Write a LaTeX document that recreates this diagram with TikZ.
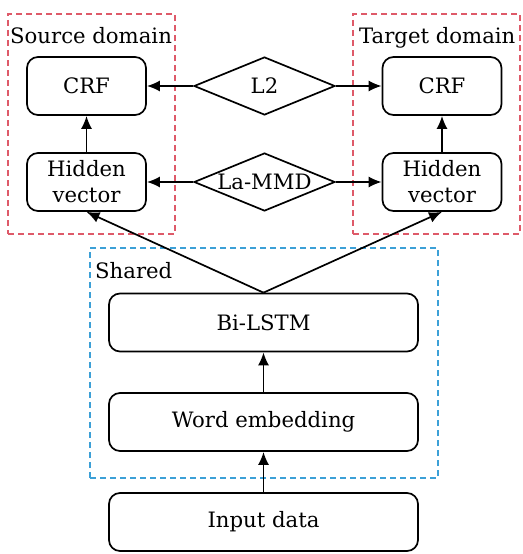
\documentclass[tikz,border=0pt]{standalone}
\usepackage{fontspec}
\setmainfont{DejaVu Serif}
\usetikzlibrary{shapes.geometric,arrows.meta}
\definecolor{redbox}{RGB}{222,90,105}
\definecolor{bluebox}{RGB}{60,160,215}
\begin{document}
\begin{tikzpicture}[x=1pt,y=-1pt,
  every node/.style={font=\fontsize{21.2}{26}\selectfont},
  block/.style={draw,line width=1.7pt,rounded corners=11pt,inner sep=0pt,align=center},
  small/.style={block,minimum width=119pt,minimum height=58pt},
  wide/.style={block,minimum width=309pt,minimum height=58pt},
  dia/.style={draw,line width=1.7pt,diamond,inner sep=0pt,minimum width=141pt,minimum height=58pt},
  arr/.style={line width=1.7pt,-{Latex[length=13pt,width=11pt]}},
  region/.style={dashed,dash pattern=on 6pt off 4pt,line width=1.3pt,inner sep=0pt},
  lab/.style={anchor=base west,inner sep=0pt}]
\useasboundingbox (0,0) rectangle (522,554);
% regions
\node[region,draw=redbox,minimum width=167pt,minimum height=220pt] (srcbox) at (91.5,124) {};
\node[region,draw=redbox,minimum width=167pt,minimum height=220pt] (tgtbox) at (436.5,124) {};
\node[region,draw=bluebox,minimum width=348pt,minimum height=230pt] (shbox) at (264,363) {};
\node[lab] (srclab) at (10,43) {Source domain};
\node[lab] (tgtlab) at (359,43) {Target domain};
\node[lab] (shlab) at (95,278) {Shared};
% blocks
\node[small] (srccrf) at (86.5,86) {CRF};
\node[small] (srchid) at (86.5,182) {Hidden\\vector};
\node[small] (tgtcrf) at (442,86) {CRF};
\node[small] (tgthid) at (442,182) {Hidden\\vector};
\node[dia,label={[inner sep=0pt]center:L2}] (l2) at (264.5,86) {};
\node[dia,label={[inner sep=0pt]center:La-MMD}] (mmd) at (264.5,182) {};
\node[wide] (bilstm) at (263.5,322.5) {Bi-LSTM};
\node[wide] (wemb) at (263.5,422) {Word embedding};
\node[wide] (input) at (263.5,522) {Input data};
% connectors
\draw[arr] (l2.west) -- (srccrf.east);
\draw[arr] (l2.east) -- (tgtcrf.west);
\draw[arr] (mmd.west) -- (srchid.east);
\draw[arr] (mmd.east) -- (tgthid.west);
\draw[arr] (srchid) -- (srccrf);
\draw[arr] (tgthid) -- (tgtcrf);
\draw[arr] (bilstm.north) -- (srchid.south);
\draw[arr] (bilstm.north) -- (tgthid.south);
\draw[arr] (wemb) -- (bilstm);
\draw[arr] (input) -- (wemb);
\end{tikzpicture}
\end{document}
